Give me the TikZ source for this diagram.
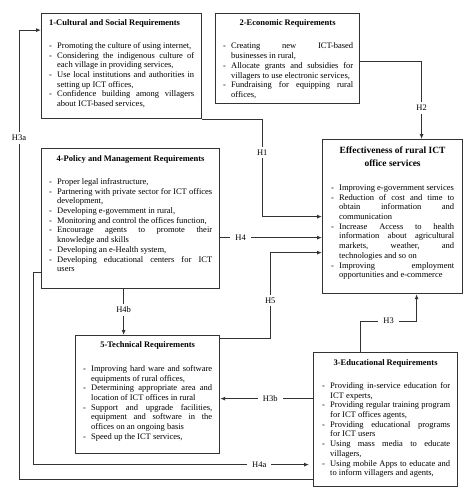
\documentclass[tikz,border=0pt]{standalone}
\usepackage{fontspec}
\setmainfont{Liberation Serif}
\usetikzlibrary{calc,arrows.meta}
\newcommand{\itm}{\par\noindent\hangindent=8pt\hangafter=1\makebox[8pt][l]{-}\ignorespaces}
\hyphenpenalty=10000
\exhyphenpenalty=10000
\tolerance=9999

\begin{document}
\begin{tikzpicture}[x=1pt,y=-1pt,font=\fontsize{8.5}{9.7}\selectfont,>={Latex[length=5pt,width=4pt]}]
\tikzstyle{blk}=[draw=black!80,line width=1.2pt,rectangle,inner sep=0pt,anchor=north west]
\tikzstyle{ttl}=[font=\fontsize{8.5}{10}\selectfont\bfseries,inner sep=0pt,anchor=base]
\tikzstyle{txt}=[align=justify,inner sep=0pt,anchor=north west]
\tikzstyle{conn}=[draw=black!80,line width=0.9pt]
\tikzstyle{lbl}=[fill=white,inner xsep=5pt,inner ysep=3pt]
\useasboundingbox (0,0) rectangle (474,499);
% boxes
\node[blk,minimum width=160pt,minimum height=105pt] (cult) at (41,13) {};
\node[blk,minimum width=144pt,minimum height=90pt] (econ) at (215,13) {};
\node[blk,minimum width=178pt,minimum height=140pt] (pol) at (41,148) {};
\node[blk,minimum width=140pt,minimum height=154pt] (eff) at (322,139) {};
\node[blk,minimum width=144pt,minimum height=118pt] (tech) at (75,335) {};
\node[blk,minimum width=144pt,minimum height=134pt] (edu) at (313,352) {};
% titles
\node[ttl] (cultT) at ($(cult.north)+(-7,12)$) {1-Cultural and Social Requirements};
\node[ttl] (econT) at ($(econ.north)+(0,12)$) {2-Economic Requirements};
\node[ttl] (polT) at ($(pol.north)+(0,13)$) {4-Policy and Management Requirements};
\node[ttl,font=\fontsize{9.5}{13}\selectfont\bfseries,align=center,anchor=north] (effT) at ($(eff.north)+(0,7.5)$)
{Effectiveness of rural ICT\\office services};
\node[ttl] (techT) at ($(tech.north)+(0,12)$) {5-Technical Requirements};
\node[ttl] (eduT) at ($(edu.north)+(0,13)$) {3-Educational Requirements};
% lists
\node[txt,text width=145pt] (cultL) at ($(cult.north west)+(8,25.5)$)
{\itm Promoting the culture of using internet,
\itm Considering the indigenous culture of\linebreak each village in providing services,
\itm Use local institutions and authorities in\linebreak setting up ICT offices,
\itm Confidence building among villagers\linebreak about ICT-based services,\par};
\node[txt,text width=130pt] (econL) at ($(econ.north west)+(8,26)$)
{\itm Creating new ICT-based\linebreak businesses in rural,
\itm Allocate grants and subsidies for\linebreak villagers to use electronic services,
\itm Fundraising for equipping rural\linebreak offices,\par};
\node[txt,text width=163pt] (polL) at ($(pol.north west)+(8,26.5)$)
{\itm Proper legal infrastructure,
\itm Partnering with private sector for ICT offices\linebreak development,
\itm Developing e-government in rural,
\itm Monitoring and control the offices function,
\itm Encourage agents to promote their\linebreak knowledge and skills
\itm Developing an e-Health system,
\itm Developing educational centers for ICT\linebreak users\par};
\node[txt,text width=123pt] (effL) at ($(eff.north west)+(9,41.5)$)
{\itm Improving e-government services
\itm Reduction of cost and time to\linebreak obtain information and\linebreak communication
\itm Increase Access to health\linebreak information about agricultural\linebreak markets, weather, and\linebreak technologies and so on
\itm Improving employment\linebreak opportunities and e-commerce\par};
\node[txt,text width=129pt] (techL) at ($(tech.north west)+(8,26.5)$)
{\itm Improving hard ware and software\linebreak equipments of rural offices,
\itm Determining appropriate area and\linebreak location of ICT offices in rural
\itm Support and upgrade facilities,\linebreak equipment and software in the\linebreak offices on an ongoing basis
\itm Speed up the ICT services,\par};
\node[txt,text width=128pt] (eduL) at ($(edu.north west)+(9,26.5)$)
{\itm Providing in-service education for\linebreak ICT experts,
\itm Providing regular training program\linebreak for ICT offices agents,
\itm Providing educational programs\linebreak for ICT users
\itm Using mass media to educate\linebreak villagers,
\itm Using mobile Apps to educate and\linebreak to inform villagers and agents,\par};
% hypotheses
\draw[conn,->] (cult.south east) -- ++(60,0) |- node[lbl,pos=0.17] (h1) {H1} (eff.west);
\draw[conn,->] ($(econ.east)+(0,3)$) -| node[lbl,pos=0.8] (h2) {H2} ($(eff.north)+(29,0)$);
\draw[conn,->] ($(pol.east)+(0,19)$) coordinate (h4s) -- node[lbl,pos=0.2] (h4) {H4} (h4s -| eff.west);
\draw[conn,->] ($(tech.north east)+(0,3)$) -- ++(50,0) |- node[lbl,pos=0.22] (h5) {H5} ($(eff.west)+(0,36)$);
\draw[conn,->] ($(edu.north)+(-25,0)$) -- ++(0,-31) -| node[lbl,pos=0.25] (h3) {H3} ($(eff.south)+(24,0)$);
\draw[conn,->] ($(edu.west)+(0,-21)$) coordinate (h3bs) -- node[lbl,pos=0.46] (h3b) {H3b} (h3bs -| tech.east);
\draw[conn,->] ($(pol.west)+(0,54)$) -- ++(-8,0) |- node[lbl,pos=0.91] (h4a) {H4a} ($(edu.west)+(-4,45)$);
\draw[conn,->] ($(edu.west)+(0,60)$) -- ++(-294,0) |- node[lbl,pos=0.38] (h3a) {H3a} ($(cult.west)+(0,-36)$);
\draw[conn,->] ($(pol.south)+(-7,0)$) coordinate (h4bs) -- node[lbl,pos=0.45] (h4b) {H4b} (h4bs |- tech.north);
\end{tikzpicture}
\end{document}
